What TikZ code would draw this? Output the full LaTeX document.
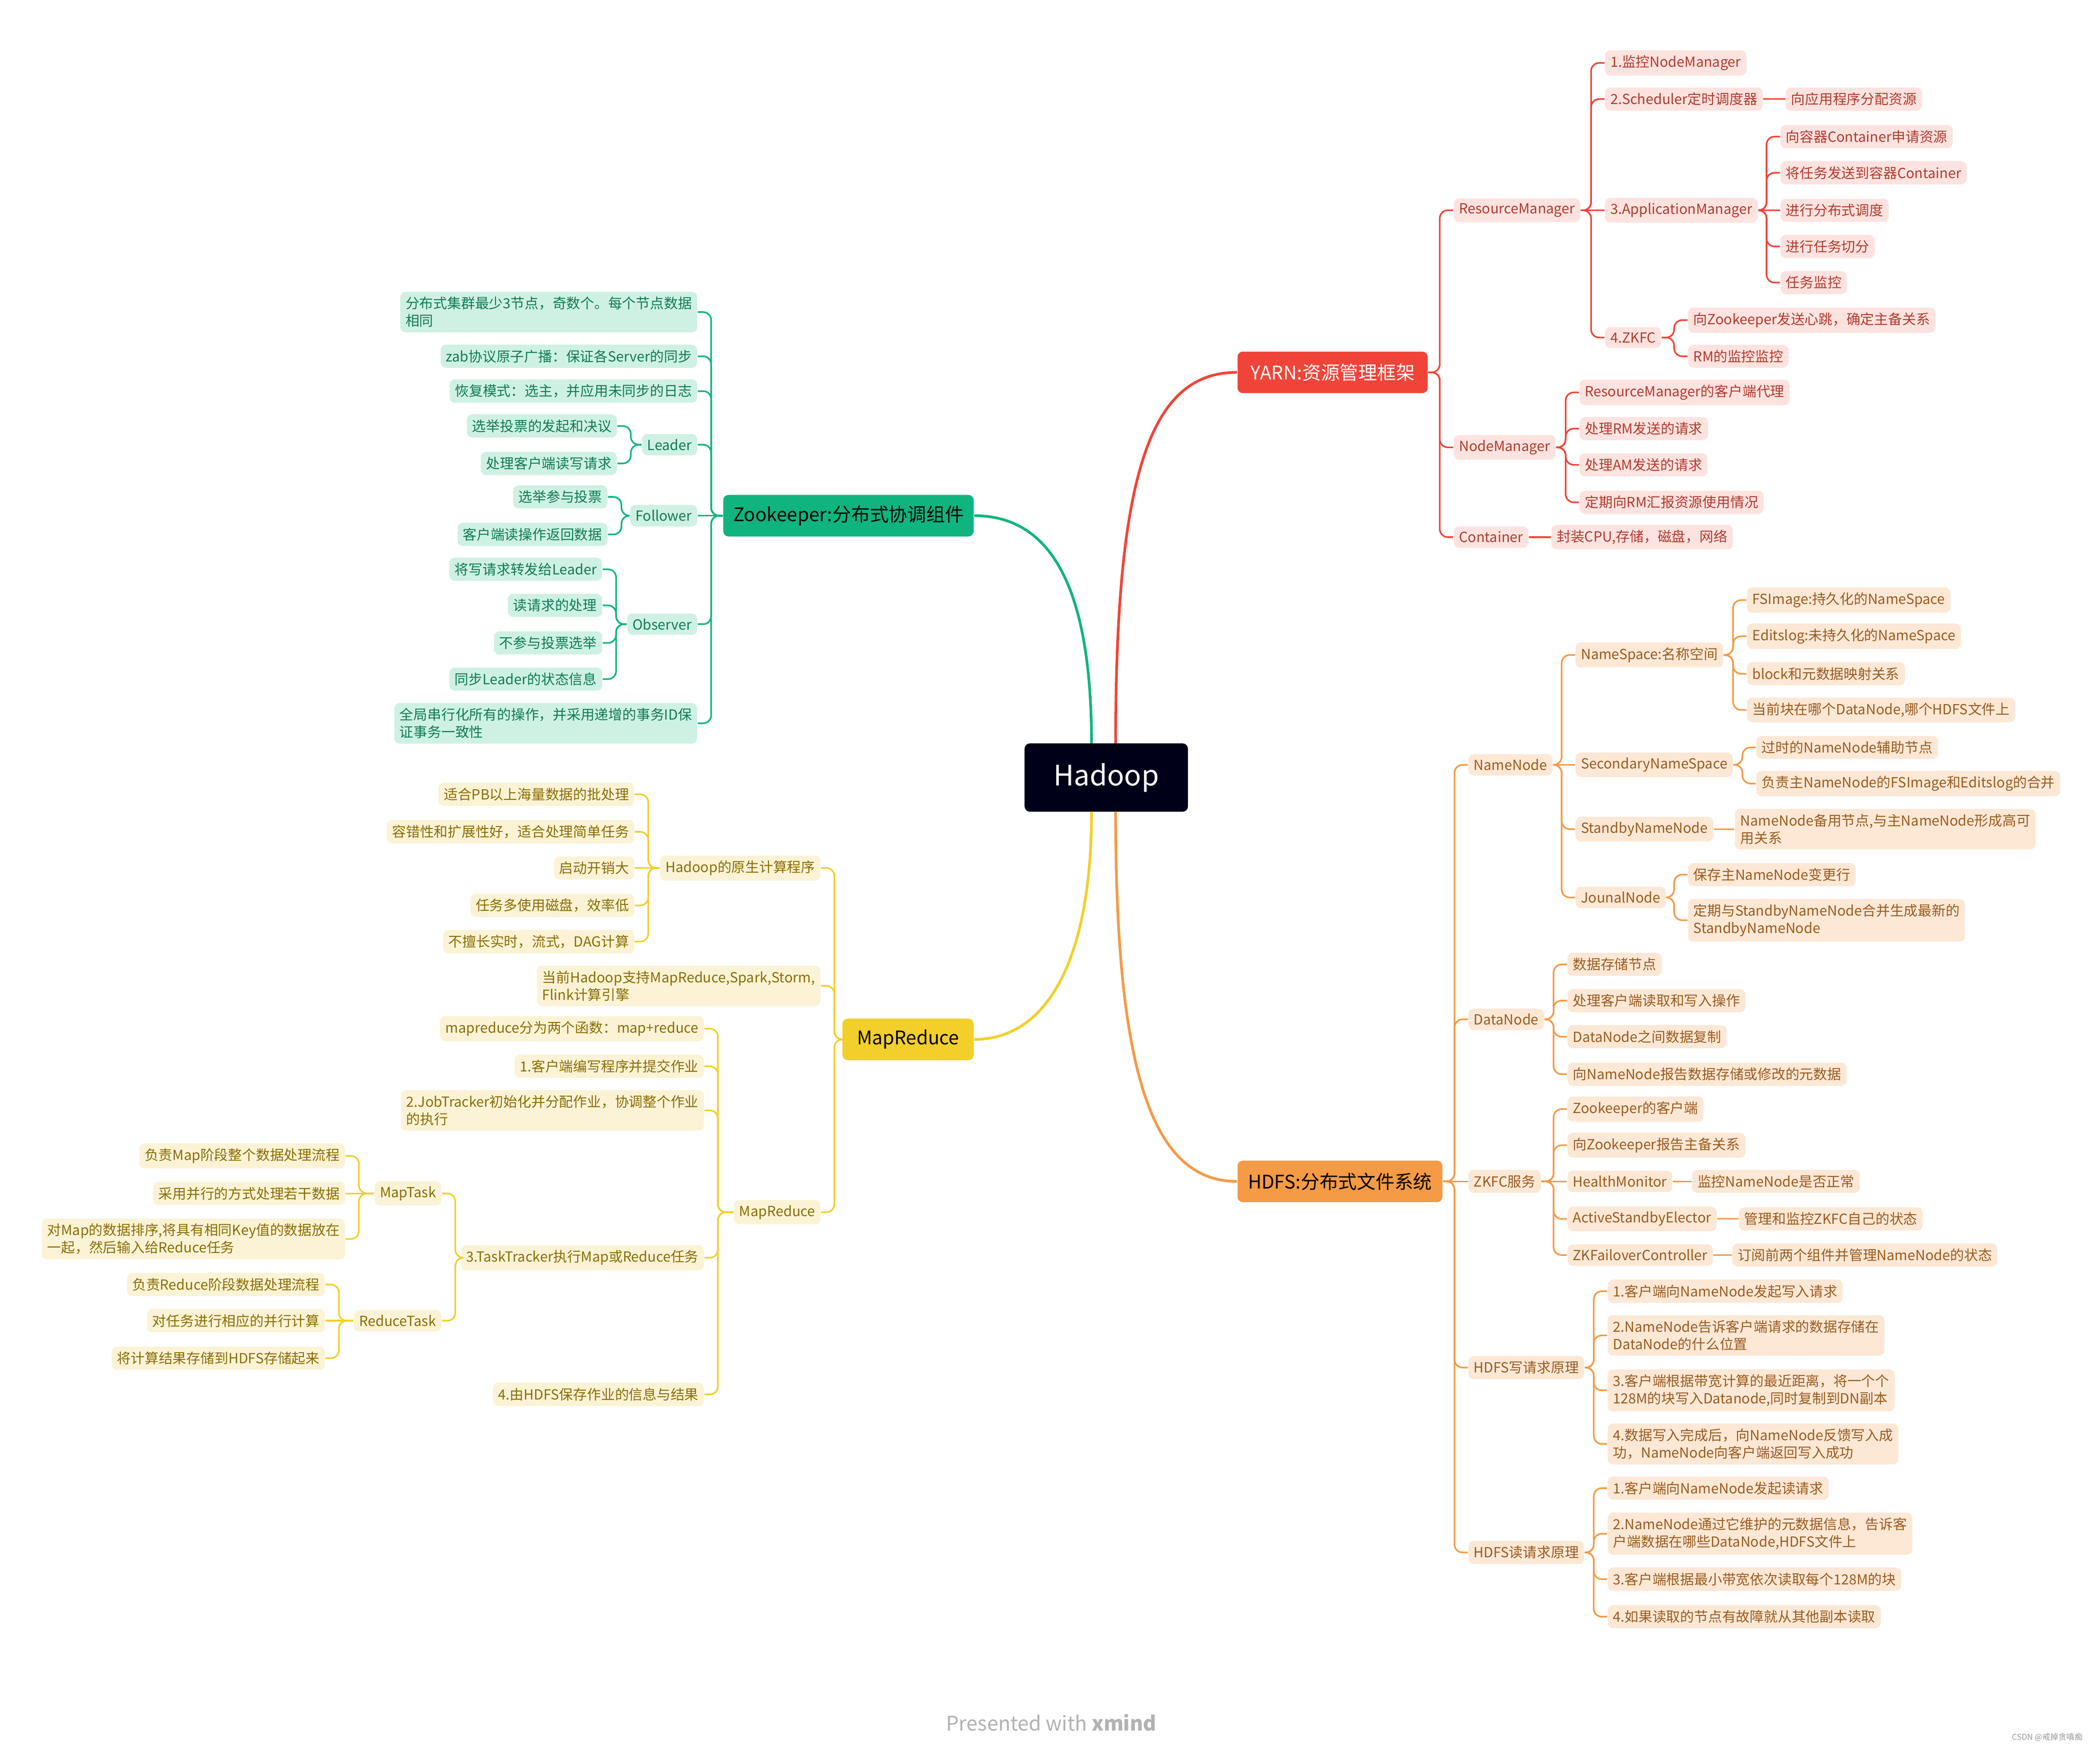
\documentclass[tikz,border=0pt]{standalone}
\usepackage{fontspec}
\setmainfont{Noto Sans CJK SC}
\definecolor{yl}{HTML}{F04438}\definecolor{yf}{HTML}{FDE3DF}\definecolor{yt}{HTML}{B03A2E}
\definecolor{hl}{HTML}{F59A45}\definecolor{hf}{HTML}{FDE8D6}\definecolor{ht}{HTML}{9A5B1E}
\definecolor{ml}{HTML}{F2CF2A}\definecolor{mf}{HTML}{FCF3D6}\definecolor{mt}{HTML}{8A6D00}
\definecolor{zl}{HTML}{0FB47F}\definecolor{zf}{HTML}{CFF1E4}\definecolor{zt}{HTML}{0E7A55}
\tikzset{
 base/.style={rounded corners=2pt,inner xsep=2pt,inner ysep=1.9pt,font=\fontsize{5.2pt}{6.5pt}\selectfont,align=left},
 yc/.style={base,fill=yf,text=yt,anchor=west},
 hc/.style={base,fill=hf,text=ht,anchor=west},
 mc/.style={base,fill=mf,text=mt,anchor=east},
 zc/.style={base,fill=zf,text=zt,anchor=east},
 main/.style={rounded corners=2pt,font=\fontsize{7pt}{8pt}\selectfont,inner sep=0pt,minimum height=15.5pt},
}
\newcommand\lnR[3]{\draw[#1,line width=0.6pt,rounded corners=3pt] (#2.east) -| ([xshift=-5pt]#3.west) -- (#3.west);}
\newcommand\lnL[3]{\draw[#1,line width=0.6pt,rounded corners=3pt] (#2.west) -| ([xshift=5pt]#3.east) -- (#3.east);}
\newcommand\lnSR[3]{\draw[#1,line width=0.6pt] (#2.east) -- (#3.west);}
\newcommand\lnSL[3]{\draw[#1,line width=0.6pt] (#2.west) -- (#3.east);}
\begin{document}
\begin{tikzpicture}[x=0.5pt,y=-0.5pt]
\useasboundingbox[fill=white] (0,0) rectangle (1568,1304);
% center
\node[fill=black!90!blue,text=white,rounded corners=2pt,minimum width=61pt,minimum height=25.5pt,font=\fontsize{10.5pt}{12pt}\selectfont] (had) at (826,580.5) {Hadoop};
\node[main,fill=yl,text=white,minimum width=71pt] (yarn) at (995,278) {YARN:资源管理框架};
\node[main,fill=hl,text=black,minimum width=76.5pt] (hdfs) at (1000.5,882) {HDFS:分布式文件系统};
\node[main,fill=zl,text=black,minimum width=93.5pt] (zk) at (633.5,385) {Zookeeper:分布式协调组件};
\node[main,fill=ml,text=black,minimum width=49pt] (mr) at (678,776) {MapReduce};
\draw[yl,line width=1pt] (833,555) .. controls (833,350) and (860,278) .. (yarn.west);
\draw[hl,line width=1pt] (833,606) .. controls (833,800) and (860,882) .. (hdfs.west);
\draw[zl,line width=1pt] (815,555) .. controls (815,430) and (780,385) .. (zk.east);
\draw[ml,line width=1pt] (815,606) .. controls (815,720) and (780,776) .. (mr.east);
% YARN
\node[yc] (rm) at (1085,157) {ResourceManager};
\node[yc] (nm) at (1085,334) {NodeManager};
\node[yc] (ct) at (1085,401) {Container};
\node[yc] (r1) at (1198,47) {1.监控NodeManager};
\node[yc] (r2) at (1198,74) {2.Scheduler定时调度器};
\node[yc] (r2a) at (1333,74) {向应用程序分配资源};
\node[yc] (r3) at (1198,157) {3.ApplicationManager};
\node[yc] (r3a) at (1329,102) {向容器Container申请资源};
\node[yc] (r3b) at (1329,129) {将任务发送到容器Container};
\node[yc] (r3c) at (1329,157) {进行分布式调度};
\node[yc] (r3d) at (1329,184) {进行任务切分};
\node[yc] (r3e) at (1329,211) {任务监控};
\node[yc] (r4) at (1198,252) {4.ZKFC};
\node[yc] (r4a) at (1260,239) {向Zookeeper发送心跳，确定主备关系};
\node[yc] (r4b) at (1260,266) {RM的监控监控};
\node[yc] (n1) at (1179,293) {ResourceManager的客户端代理};
\node[yc] (n2) at (1179,320) {处理RM发送的请求};
\node[yc] (n3) at (1179,347) {处理AM发送的请求};
\node[yc] (n4) at (1179,375) {定期向RM汇报资源使用情况};
\node[yc] (c1) at (1158,401) {封装CPU,存储，磁盘，网络};
\foreach \a/\b in {yarn/rm,yarn/nm,yarn/ct,rm/r1,rm/r2,r3/r3a,r3/r3b,r3/r3d,r3/r3e,rm/r4,r4/r4a,r4/r4b,nm/n1,nm/n2,nm/n3,nm/n4}{\lnR{yl}{\a}{\b}}
\foreach \a/\b in {r2/r2a,rm/r3,r3/r3c,ct/c1}{\lnSR{yl}{\a}{\b}}
% HDFS
\node[hc] (nn) at (1096,571) {NameNode};
\node[hc] (dn) at (1096,761) {DataNode};
\node[hc] (zs) at (1096,882) {ZKFC服务};
\node[hc] (hw) at (1096,1021) {HDFS写请求原理};
\node[hc] (hr) at (1096,1159) {HDFS读请求原理};
\node[hc] (ns) at (1176,489) {NameSpace:名称空间};
\node[hc] (sn) at (1176,571) {SecondaryNameSpace};
\node[hc] (sb) at (1176,619) {StandbyNameNode};
\node[hc] (jn) at (1176,670) {JounalNode};
\node[hc] (ns1) at (1304,448) {FSImage:持久化的NameSpace};
\node[hc] (ns2) at (1304,475) {Editslog:未持久化的NameSpace};
\node[hc] (ns3) at (1304,503) {block和元数据映射关系};
\node[hc] (ns4) at (1304,530) {当前块在哪个DataNode,哪个HDFS文件上};
\node[hc] (sn1) at (1311,558) {过时的NameNode辅助节点};
\node[hc] (sn2) at (1311,585) {负责主NameNode的FSImage和Editslog的合并};
\node[hc] (sb1) at (1295,619) {NameNode备用节点,与主NameNode形成高可\\用关系};
\node[hc] (jn1) at (1260,653) {保存主NameNode变更行};
\node[hc] (jn2) at (1260,687) {定期与StandbyNameNode合并生成最新的\\StandbyNameNode};
\node[hc] (d1) at (1170,720) {数据存储节点};
\node[hc] (d2) at (1170,747) {处理客户端读取和写入操作};
\node[hc] (d3) at (1170,774) {DataNode之间数据复制};
\node[hc] (d4) at (1170,802) {向NameNode报告数据存储或修改的元数据};
\node[hc] (z1) at (1170,828) {Zookeeper的客户端};
\node[hc] (z2) at (1170,855) {向Zookeeper报告主备关系};
\node[hc] (z3) at (1170,882) {HealthMonitor};
\node[hc] (z3a) at (1263,882) {监控NameNode是否正常};
\node[hc] (z4) at (1170,910) {ActiveStandbyElector};
\node[hc] (z4a) at (1298,910) {管理和监控ZKFC自己的状态};
\node[hc] (z5) at (1170,937) {ZKFailoverController};
\node[hc] (z5a) at (1293,937) {订阅前两个组件并管理NameNode的状态};
\node[hc] (w1) at (1200,964) {1.客户端向NameNode发起写入请求};
\node[hc] (w2) at (1200,997) {2.NameNode告诉客户端请求的数据存储在\\DataNode的什么位置};
\node[hc] (w3) at (1200,1038) {3.客户端根据带宽计算的最近距离，将一个个\\128M的块写入Datanode,同时复制到DN副本};
\node[hc] (w4) at (1200,1078) {4.数据写入完成后，向NameNode反馈写入成\\功，NameNode向客户端返回写入成功};
\node[hc] (q1) at (1200,1111) {1.客户端向NameNode发起读请求};
\node[hc] (q2) at (1200,1145) {2.NameNode通过它维护的元数据信息，告诉客\\户端数据在哪些DataNode,HDFS文件上};
\node[hc] (q3) at (1200,1179) {3.客户端根据最小带宽依次读取每个128M的块};
\node[hc] (q4) at (1200,1207) {4.如果读取的节点有故障就从其他副本读取};
\foreach \a/\b in {hdfs/nn,hdfs/dn,hdfs/hw,hdfs/hr,ns/ns1,ns/ns2,ns/ns3,ns/ns4,sn/sn1,sn/sn2,nn/ns,nn/sb,nn/jn,jn/jn1,jn/jn2,dn/d1,dn/d2,dn/d3,dn/d4,zs/z1,zs/z2,zs/z4,zs/z5,hw/w1,hw/w2,hw/w3,hw/w4,hr/q1,hr/q2,hr/q3,hr/q4}{\lnR{hl}{\a}{\b}}
\foreach \a/\b in {hdfs/zs,nn/sn,sb/sb1,zs/z3,z3/z3a,z4/z4a,z5/z5a}{\lnSR{hl}{\a}{\b}}
% Zookeeper
\node[zc] (k1) at (521,233) {分布式集群最少3节点，奇数个。每个节点数据\\相同};
\node[zc] (k2) at (521,266) {zab协议原子广播：保证各Server的同步};
\node[zc] (k3) at (521,292) {恢复模式：选主，并应用未同步的日志};
\node[zc] (ld) at (521,332) {Leader};
\node[zc] (fl) at (521,385) {Follower};
\node[zc] (ob) at (521,466) {Observer};
\node[zc] (k4) at (521,540) {全局串行化所有的操作，并采用递增的事务ID保\\证事务一致性};
\node[zc] (ld1) at (461,318) {选举投票的发起和决议};
\node[zc] (ld2) at (461,346) {处理客户端读写请求};
\node[zc] (fl1) at (454,371) {选举参与投票};
\node[zc] (fl2) at (454,399) {客户端读操作返回数据};
\node[zc] (ob1) at (450,425) {将写请求转发给Leader};
\node[zc] (ob2) at (450,452) {读请求的处理};
\node[zc] (ob3) at (450,480) {不参与投票选举};
\node[zc] (ob4) at (450,507) {同步Leader的状态信息};
\foreach \a/\b in {zk/k1,zk/k2,zk/k3,zk/ld,zk/ob,zk/k4,ld/ld1,ld/ld2,fl/fl1,fl/fl2,ob/ob1,ob/ob2,ob/ob3,ob/ob4}{\lnL{zl}{\a}{\b}}
\lnSL{zl}{zk}{fl}
% MapReduce
\node[mc] (hp) at (613,648) {Hadoop的原生计算程序};
\node[mc] (eng) at (613,736) {当前Hadoop支持MapReduce,Spark,Storm,\\Flink计算引擎};
\node[mc] (mr2) at (613,905) {MapReduce};
\node[mc] (hp1) at (474,593) {适合PB以上海量数据的批处理};
\node[mc] (hp2) at (474,621) {容错性和扩展性好，适合处理简单任务};
\node[mc] (hp3) at (474,648) {启动开销大};
\node[mc] (hp4) at (474,676) {任务多使用磁盘，效率低};
\node[mc] (hp5) at (474,703) {不擅长实时，流式，DAG计算};
\node[mc] (m1) at (526,768) {mapreduce分为两个函数：map+reduce};
\node[mc] (m2) at (526,796) {1.客户端编写程序并提交作业};
\node[mc] (m3) at (526,829) {2.JobTracker初始化并分配作业，协调整个作业\\的执行};
\node[mc] (m4) at (526,939) {3.TaskTracker执行Map或Reduce任务};
\node[mc] (m5) at (526,1041) {4.由HDFS保存作业的信息与结果};
\node[mc] (mt) at (330,891) {MapTask};
\node[mc] (rt) at (330,986) {ReduceTask};
\node[mc] (mt1) at (258,863) {负责Map阶段整个数据处理流程};
\node[mc] (mt2) at (258,891) {采用并行的方式处理若干数据};
\node[mc] (mt3) at (258,925) {对Map的数据排序,将具有相同Key值的数据放在\\一起，然后输入给Reduce任务};
\node[mc] (rt1) at (243,959) {负责Reduce阶段数据处理流程};
\node[mc] (rt2) at (243,986) {对任务进行相应的并行计算};
\node[mc] (rt3) at (243,1014) {将计算结果存储到HDFS存储起来};
\foreach \a/\b in {mr/hp,mr/eng,mr/mr2,hp/hp1,hp/hp2,hp/hp4,hp/hp5,mr2/m1,mr2/m2,mr2/m3,mr2/m4,mr2/m5,m4/mt,m4/rt,mt/mt1,mt/mt3,rt/rt1,rt/rt3}{\lnL{ml}{\a}{\b}}
\foreach \a/\b in {hp/hp3,mt/mt2,rt/rt2}{\lnSL{ml}{\a}{\b}}
% footer
\node[text=black!30,font=\fontsize{7.5pt}{9pt}\selectfont] (ft) at (785,1286) {Presented with \textbf{xmind}};
\node[text=black!40,font=\fontsize{3pt}{4pt}\selectfont,anchor=east] (wm) at (1562,1297) {CSDN @戒掉贪嗔痴};
\end{tikzpicture}
\end{document}
